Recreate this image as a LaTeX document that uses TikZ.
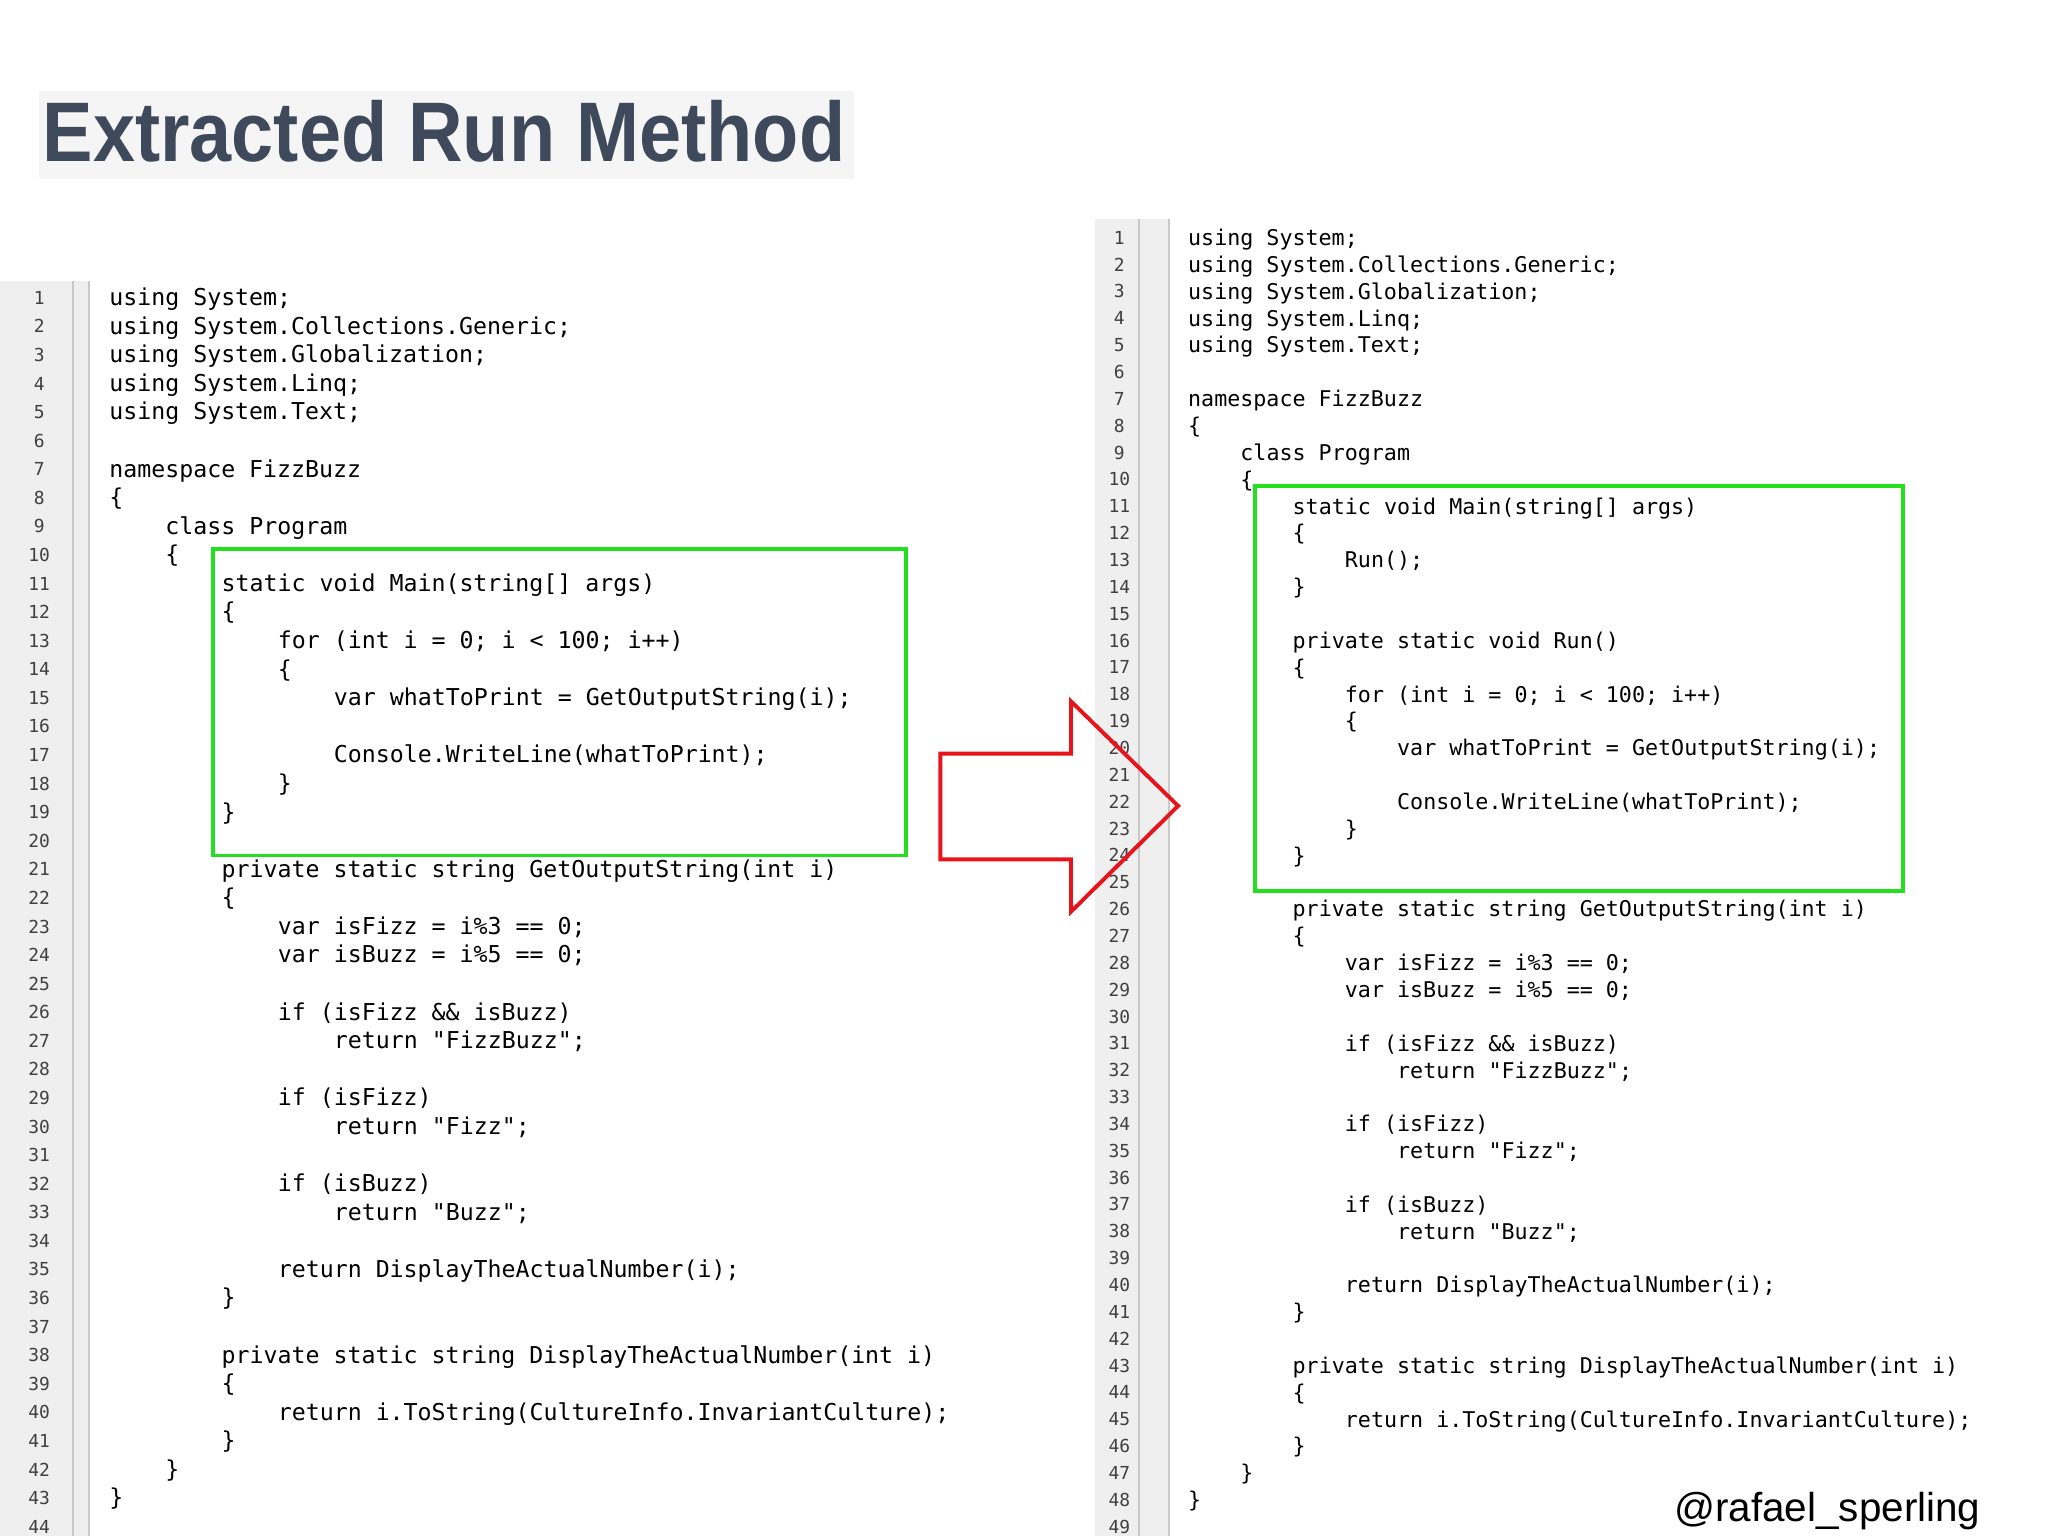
\documentclass[tikz,border=0pt]{standalone}
\usepackage{fontspec}
\setmainfont{Liberation Sans}
\setmonofont{DejaVu Sans Mono}
\definecolor{titlec}{HTML}{3E4A5B}
\definecolor{gut}{HTML}{EFEFEF}
\definecolor{gutline}{HTML}{C8C8C8}
\definecolor{boxg}{HTML}{22E01E}
\definecolor{arrr}{HTML}{E8141C}
\begin{document}
\begin{tikzpicture}[x=0.01cm,y=-0.01cm,
  lcode/.style={anchor=base west,inner sep=0,font=\ttfamily\fontsize{5.06}{6}\selectfont},
  rcode/.style={anchor=base west,inner sep=0,font=\ttfamily\fontsize{4.72}{6}\selectfont},
  lnum/.style={anchor=base,inner sep=0,text=black!75,font=\ttfamily\fontsize{3.9}{5}\selectfont},
  gbox/.style={draw=boxg,line width=0.03cm},
]
\useasboundingbox (0,0) rectangle (1568,1176);
\fill[white] (0,0) rectangle (1568,1176);
% title
\fill[black!4] (30,70) rectangle (654,137);
\node[anchor=base west,inner sep=0,text=titlec,xscale=0.895,font=\bfseries\fontsize{18.4}{20}\selectfont] (title) at (32,124) {Extracted Run Method};
% gutters
\fill[gut] (0,215) rectangle (68,1176);
\draw[gutline] (56,215) -- (56,1176);
\draw[gutline,line width=0.015cm] (68,215) -- (68,1176);
\fill[gut] (838,168) rectangle (895,1176);
\draw[gutline] (872,168) -- (872,1176);
\draw[gutline,line width=0.015cm] (895,168) -- (895,1176);
\foreach \n in {1,...,44} \node[lnum] (LN\n) at (30,{229+(\n-1)*21.88+4}) {\n};
\foreach \n in {1,...,49} \node[lnum] (RN\n) at (857,{183+(\n-1)*20.56+4}) {\n};
% left code
\foreach \n/\i/\t in {
1/0/{using System;},2/0/{using System.Collections.Generic;},3/0/{using System.Globalization;},
4/0/{using System.Linq;},5/0/{using System.Text;},7/0/{namespace FizzBuzz},8/0/{\{},
9/1/{class Program},10/1/{\{},11/2/{static void Main(string[] args)},12/2/{\{},
13/3/{for (int i = 0; i < 100; i++)},14/3/{\{},15/4/{var whatToPrint = GetOutputString(i);},
17/4/{Console.WriteLine(whatToPrint);},18/3/{\}},19/2/{\}},
21/2/{private static string GetOutputString(int i)},22/2/{\{},
23/3/{var isFizz = i\%3 == 0;},24/3/{var isBuzz = i\%5 == 0;},
26/3/{if (isFizz \&\& isBuzz)},27/4/{return "FizzBuzz";},29/3/{if (isFizz)},30/4/{return "Fizz";},
32/3/{if (isBuzz)},33/4/{return "Buzz";},35/3/{return DisplayTheActualNumber(i);},36/2/{\}},
38/2/{private static string DisplayTheActualNumber(int i)},39/2/{\{},
40/3/{return i.ToString(CultureInfo.InvariantCulture);},41/2/{\}},42/1/{\}},43/0/{\}}}
  \node[lcode] (L\n) at ({83+\i*43},{229+(\n-1)*21.88+5}) {\t};
% right code
\foreach \n/\i/\t in {
1/0/{using System;},2/0/{using System.Collections.Generic;},3/0/{using System.Globalization;},
4/0/{using System.Linq;},5/0/{using System.Text;},7/0/{namespace FizzBuzz},8/0/{\{},
9/1/{class Program},10/1/{\{},11/2/{static void Main(string[] args)},12/2/{\{},
13/3/{Run();},14/2/{\}},16/2/{private static void Run()},17/2/{\{},
18/3/{for (int i = 0; i < 100; i++)},19/3/{\{},20/4/{var whatToPrint = GetOutputString(i);},
22/4/{Console.WriteLine(whatToPrint);},23/3/{\}},24/2/{\}},
26/2/{private static string GetOutputString(int i)},27/2/{\{},
28/3/{var isFizz = i\%3 == 0;},29/3/{var isBuzz = i\%5 == 0;},
31/3/{if (isFizz \&\& isBuzz)},32/4/{return "FizzBuzz";},34/3/{if (isFizz)},35/4/{return "Fizz";},
37/3/{if (isBuzz)},38/4/{return "Buzz";},40/3/{return DisplayTheActualNumber(i);},41/2/{\}},
43/2/{private static string DisplayTheActualNumber(int i)},44/2/{\{},
45/3/{return i.ToString(CultureInfo.InvariantCulture);},46/2/{\}},47/1/{\}},48/0/{\}}}
  \node[rcode] (R\n) at ({909+\i*40},{183+(\n-1)*20.56+5}) {\t};
% boxes
\draw[gbox] (163,420) rectangle (694,655);
\draw[gbox] (961,372) rectangle (1457,682);
% arrow
\draw[arrr,line width=0.03cm,line join=miter] (720,577) -- (820,577) -- (820,537) -- (902,617) -- (820,698) -- (820,658) -- (720,658) -- cycle;
% watermark
\node[anchor=base east,inner sep=0,font=\fontsize{8.8}{11}\selectfont] (wm) at (1517,1165) {@rafael\_sperling};
\end{tikzpicture}
\end{document}
